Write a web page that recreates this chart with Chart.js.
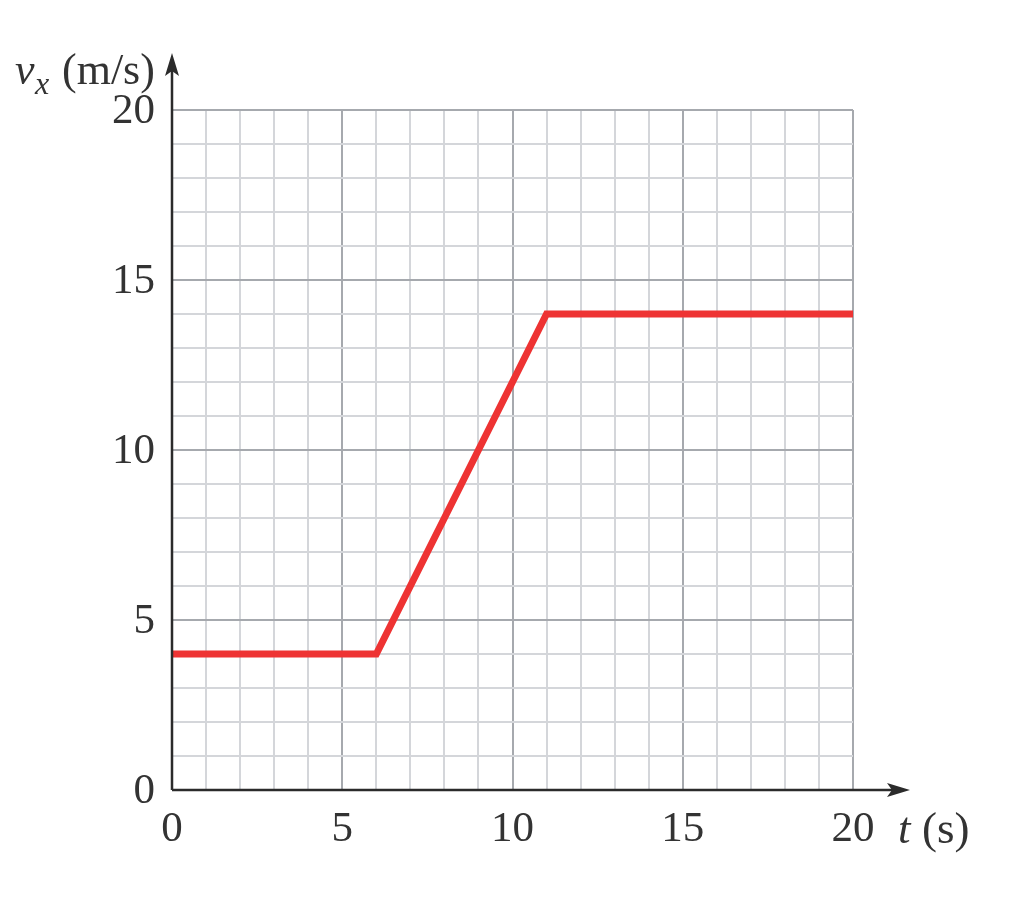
<!DOCTYPE html>
<html>
<head>
<meta charset="utf-8">
<script src="https://cdn.jsdelivr.net/npm/chart.js@4/dist/chart.umd.min.js"></script>
<style>
  html, body { margin: 0; padding: 0; background: #fff; }
  #wrap { width: 1024px; height: 899px; }
</style>
</head>
<body>
<div id="wrap"><canvas id="c" width="1024" height="899"></canvas></div>
<script>
// velocity vs time data
const timeS = [0, 6, 11, 20];
const velocity = [4, 4, 14, 14];
const xTicks = [0, 5, 10, 15, 20];
const yTicks = [0, 5, 10, 15, 20];

const serif = '"Liberation Serif", "Times New Roman", serif';

function gridColor(ctx) {
    if (ctx.tick && ctx.tick.value % 5 === 0) return '#a6a9ae';
    return '#d4d6da';
}

// axes with arrows and axis titles
const axisPlugin = {
    id: 'axisArrows',
    afterDraw(chart) {
        const ctx = chart.ctx;
        const a = chart.chartArea;
        ctx.save();
        ctx.strokeStyle = '#2b2b2b';
        ctx.fillStyle = '#2b2b2b';
        ctx.lineWidth = 2.5;
        ctx.beginPath();
        ctx.moveTo(a.left, a.bottom);
        ctx.lineTo(a.left, 70);
        ctx.moveTo(a.left, a.bottom);
        ctx.lineTo(895, a.bottom);
        ctx.stroke();
        // arrow heads
        ctx.beginPath();
        ctx.moveTo(a.left, 53);
        ctx.lineTo(a.left - 7, 76);
        ctx.lineTo(a.left, 71);
        ctx.lineTo(a.left + 7, 76);
        ctx.closePath();
        ctx.fill();
        ctx.beginPath();
        ctx.moveTo(910, a.bottom);
        ctx.lineTo(887, a.bottom - 7);
        ctx.lineTo(892, a.bottom);
        ctx.lineTo(887, a.bottom + 7);
        ctx.closePath();
        ctx.fill();

        // y title: v_x (m/s)
        ctx.fillStyle = '#333';
        ctx.textBaseline = 'alphabetic';
        ctx.textAlign = 'left';
        ctx.font = 'italic 44px ' + serif;
        ctx.fillText('v', 15, 84);
        ctx.font = 'italic 32px ' + serif;
        ctx.fillText('x', 35, 94);
        ctx.font = '44px ' + serif;
        ctx.fillText('(m/s)', 62, 84);

        // x title: t (s)
        ctx.font = 'italic 45px ' + serif;
        ctx.fillText('t', 898, 843);
        ctx.font = '45px ' + serif;
        ctx.fillText('(s)', 922, 843);
        ctx.restore();
    }
};

new Chart(document.getElementById('c').getContext('2d'), {
    type: 'line',
    data: {
        datasets: [{
            data: timeS.map((t, i) => ({ x: t, y: velocity[i] })),
            borderColor: '#ee3333',
            borderWidth: 7,
            pointRadius: 0,
            tension: 0,
            fill: false,
            borderJoinStyle: 'miter'
        }]
    },
    options: {
        responsive: false,
        animation: false,
        layout: { padding: { top: 110, right: 171, left: 0, bottom: 0 } },
        plugins: { legend: { display: false }, tooltip: { enabled: false } },
        scales: {
            x: {
                type: 'linear',
                min: 0,
                max: 20,
                afterFit(scale) { scale.height = 109; },
                afterBuildTicks(scale) {
                    scale.ticks = [];
                    for (let v = 0; v <= 20; v++) scale.ticks.push({ value: v });
                },
                grid: { color: gridColor, lineWidth: 2, drawTicks: false },
                border: { display: false },
                ticks: {
                    autoSkip: false,
                    maxRotation: 0,
                    padding: 14,
                    color: '#333',
                    font: { family: serif, size: 43 },
                    callback: v => xTicks.includes(v) ? String(v) : ''
                }
            },
            y: {
                type: 'linear',
                min: 0,
                max: 20,
                afterFit(scale) { scale.width = 172; },
                afterBuildTicks(scale) {
                    scale.ticks = [];
                    for (let v = 0; v <= 20; v++) scale.ticks.push({ value: v });
                },
                grid: { color: gridColor, lineWidth: 2, drawTicks: false },
                border: { display: false },
                ticks: {
                    autoSkip: false,
                    padding: 17,
                    labelOffset: 2,
                    color: '#333',
                    font: { family: serif, size: 43 },
                    callback: v => yTicks.includes(v) ? String(v) : ''
                }
            }
        }
    },
    plugins: [axisPlugin]
});
</script>
</body>
</html>
